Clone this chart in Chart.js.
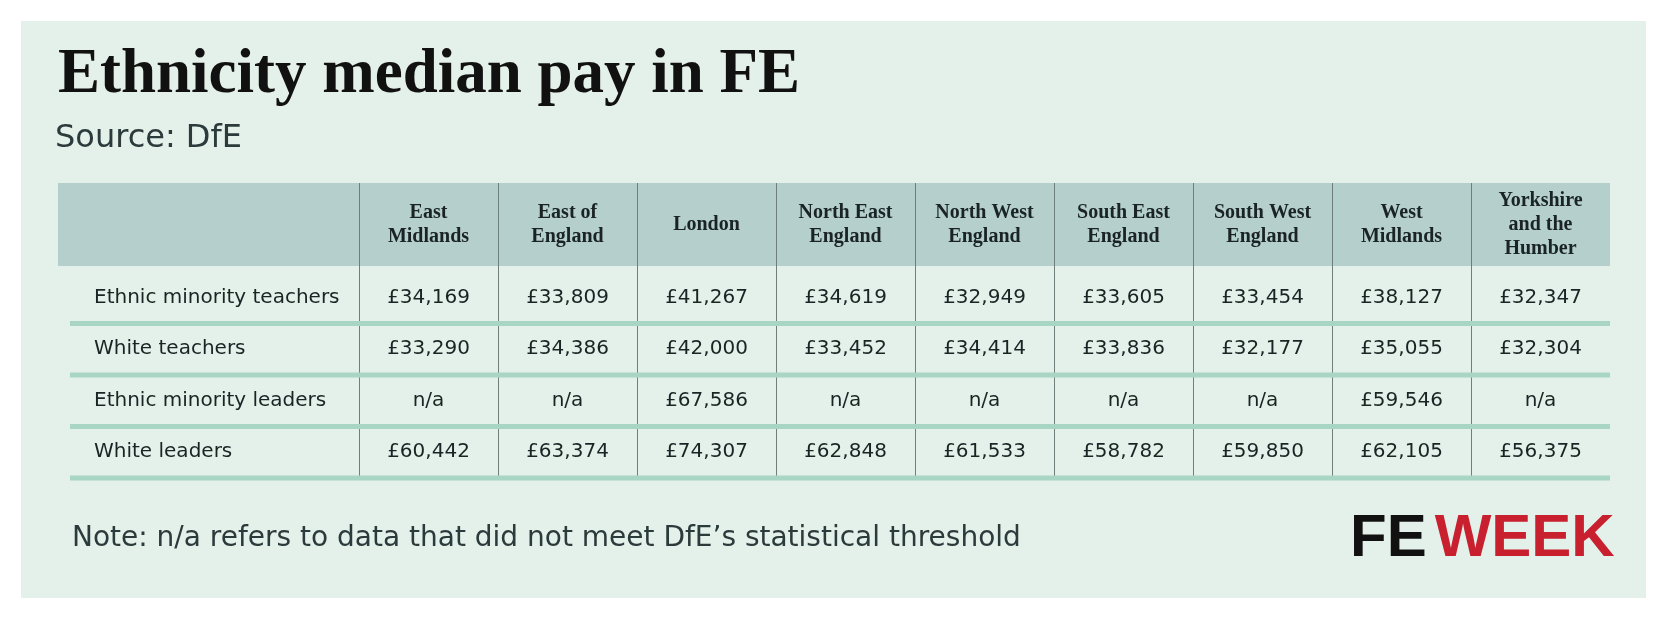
<!DOCTYPE html>
<html><head><meta charset="utf-8">
<script src="https://cdn.jsdelivr.net/npm/chart.js@4/dist/chart.umd.min.js"></script>
<style>html,body{margin:0;padding:0;background:#fff}canvas{display:block}</style>
</head><body>
<canvas id="c" width="1667" height="625"></canvas>
<script>
const regions = [["East","Midlands"],["East of","England"],["London"],["North East","England"],["North West","England"],["South East","England"],["South West","England"],["West","Midlands"],["Yorkshire","and the","Humber"]];
const rowLabels = ["Ethnic minority teachers","White teachers","Ethnic minority leaders","White leaders"];
const minorityTeachers = ["£34,169","£33,809","£41,267","£34,619","£32,949","£33,605","£33,454","£38,127","£32,347"];
const whiteTeachers = ["£33,290","£34,386","£42,000","£33,452","£34,414","£33,836","£32,177","£35,055","£32,304"];
const minorityLeaders = ["n/a","n/a","£67,586","n/a","n/a","n/a","n/a","£59,546","n/a"];
const whiteLeaders = ["£60,442","£63,374","£74,307","£62,848","£61,533","£58,782","£59,850","£62,105","£56,375"];
const rows = [minorityTeachers, whiteTeachers, minorityLeaders, whiteLeaders];

const tablePlugin = {
  id: 'table',
  beforeDraw(chart) {
    const ctx = chart.ctx;
    ctx.save();
    ctx.fillStyle = '#fff'; ctx.fillRect(0,0,1667,625);
    ctx.fillStyle = '#e4f0ea'; ctx.fillRect(21,21,1625,577);
    ctx.fillStyle = '#111';
    ctx.font = 'bold 63px "Liberation Serif"';
    ctx.textBaseline = 'middle';
    ctx.fillText('Ethnicity median pay in FE', 58, 76);
    ctx.fillStyle = '#2b3a3a';
    ctx.font = '32px "DejaVu Sans"';
    ctx.fillText('Source: DfE', 55, 139);
    ctx.restore();
  },
  afterDraw(chart) {
    const ctx = chart.ctx, xs = chart.scales.x, ys = chart.scales.y, a = chart.chartArea;
    const colW = (a.right - a.left) / regions.length;
    const rowH = (a.bottom - a.top) / rows.length;
    const headTop = 183, headBot = a.top - 6;
    ctx.save();
    ctx.fillStyle = '#b4cfcc';
    ctx.fillRect(58, headTop, a.right - 58, headBot - headTop);
    ctx.strokeStyle = '#6f7f7c'; ctx.lineWidth = 1;
    for (let i = 0; i < regions.length; i++) {
      const x = Math.round(xs.getPixelForValue(i) - colW/2) + 0.5;
      ctx.beginPath(); ctx.moveTo(x, headTop); ctx.lineTo(x, a.bottom); ctx.stroke();
    }
    ctx.fillStyle = '#1a2424';
    ctx.font = 'bold 20px "Liberation Serif"';
    ctx.textAlign = 'center'; ctx.textBaseline = 'middle';
    regions.forEach((r, i) => {
      const cx = xs.getPixelForValue(i), cy = (headTop + headBot)/2;
      r.forEach((line, k) => ctx.fillText(line, cx, cy + (k - (r.length-1)/2) * 24));
    });
    rows.forEach((vals, j) => {
      const cy = ys.getPixelForValue(j);
      ctx.font = '20px "DejaVu Sans"';
      ctx.textAlign = 'left'; ctx.fillStyle = '#1a2424';
      ctx.fillText(rowLabels[j], 94, cy);
      ctx.textAlign = 'center';
      vals.forEach((v, i) => ctx.fillText(v, xs.getPixelForValue(i), cy));
      const ly = cy + rowH/2;
      ctx.strokeStyle = '#a9d6c4'; ctx.lineWidth = 5;
      ctx.beginPath(); ctx.moveTo(70, ly); ctx.lineTo(a.right, ly); ctx.stroke();
    });
    ctx.textAlign = 'left';
    ctx.fillStyle = '#2b3a3a'; ctx.font = '28px "DejaVu Sans"';
    ctx.fillText('Note: n/a refers to data that did not meet DfE\u2019s statistical threshold', 72, 539);
    ctx.font = 'bold 60px "Liberation Sans"';
    ctx.fillStyle = '#111'; ctx.fillText('FE', 1350, 539);
    const w = ctx.measureText('FE').width + 8;
    ctx.fillStyle = '#c8202f'; ctx.fillText('WEEK', 1350 + w, 539);
    ctx.restore();
  }
};

new Chart(document.getElementById('c'), {
  type: 'bar',
  data: { labels: regions.map(r => r.join(' ')), datasets: [] },
  options: {
    responsive: false, animation: false, devicePixelRatio: 1,
    layout: { padding: { left: 359, right: 57, top: 272, bottom: 147 } },
    plugins: { legend: { display: false }, tooltip: { enabled: false } },
    scales: {
      x: { type: 'category', display: false, offset: true },
      y: { type: 'category', labels: rowLabels, display: false, offset: true }
    }
  },
  plugins: [tablePlugin]
});
</script>
</body></html>
